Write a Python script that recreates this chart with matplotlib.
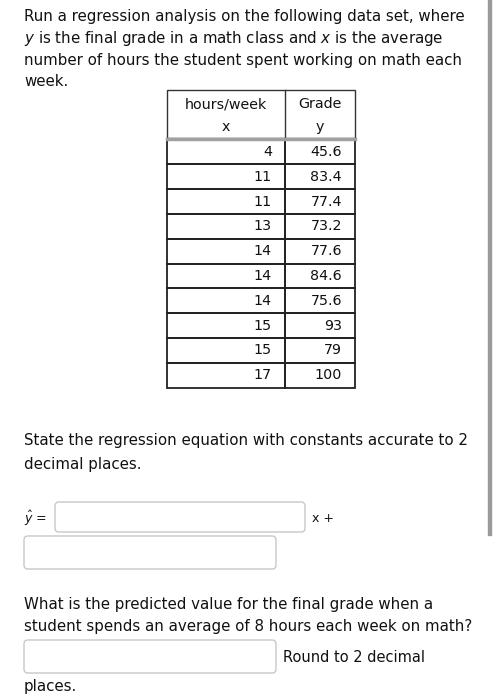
import matplotlib
matplotlib.use("Agg")
import matplotlib.pyplot as plt
from matplotlib.patches import Rectangle, FancyBboxPatch

hours = [4, 11, 11, 13, 14, 14, 14, 15, 15, 17]
grades = ["45.6", "83.4", "77.4", "73.2", "77.6", "84.6", "75.6", "93", "79", "100"]
col_headers = [("hours/week", "x"), ("Grade", "y")]

plt.rcParams['font.family'] = ['DejaVu Sans']
fig = plt.figure(figsize=(4.95, 7), dpi=100)
ax = fig.add_axes([0, 0, 1, 1])
ax.set_xlim(0, 495); ax.set_ylim(700, 0); ax.axis('off')
fs = 10.8
tc = '#111111'

def t(x, y, s, **kw):
    kw.setdefault('fontsize', fs)
    ax.text(x, y, s, va='center', color=tc, **kw)

intro = ["Run a regression analysis on the following data set, where",
         r"$y$ is the final grade in a math class and $x$ is the average",
         "number of hours the student spent working on math each",
         "week."]
for i, s in enumerate(intro):
    t(24, 16 + 22 * i, s)

ax.add_patch(Rectangle((488, 0), 3, 535, color='#9a9a9a'))

x0, xm, x1 = 167, 285, 355
ax.add_patch(Rectangle((x0, 90), x1 - x0, 48, fill=False, lw=1, ec='#333'))
ax.plot([xm, xm], [90, 138], color='#333', lw=1)
t((x0 + xm) / 2, 104, col_headers[0][0], ha='center', fontsize=10.3)
t((x0 + xm) / 2, 127, col_headers[0][1], ha='center', fontsize=10.3)
t((xm + x1) / 2, 104, col_headers[1][0], ha='center', fontsize=10.3)
t((xm + x1) / 2, 127, col_headers[1][1], ha='center', fontsize=10.3)
ax.plot([x0, x1], [138.5, 138.5], color='#a0a0a0', lw=2.5)
rh = 24.8
top = 139.5
for i, (h, g) in enumerate(zip(hours, grades)):
    y = top + i * rh
    ax.add_patch(Rectangle((x0, y), xm - x0, rh, fill=False, lw=1.3, ec='#222'))
    ax.add_patch(Rectangle((xm, y), x1 - xm, rh, fill=False, lw=1.3, ec='#222'))
    t(272, y + rh / 2, str(h), ha='right', fontsize=10.3)
    t(342, y + rh / 2, g, ha='right', fontsize=10.3)

t(24, 441, "State the regression equation with constants accurate to 2")
t(24, 464, "decimal places.")

def box(x, y, w, h):
    ax.add_patch(FancyBboxPatch((x, y), w, h, boxstyle="round,pad=0,rounding_size=4",
                                fill=False, ec='#c8c8c8', lw=1))

t(24, 518, r"$\hat{y}$ =", fontsize=9)
box(55, 502, 250, 30)
t(312, 518, "x +", fontsize=9)
box(24, 536, 252, 33)

t(24, 605, "What is the predicted value for the final grade when a")
t(24, 627, "student spends an average of 8 hours each week on math?")
box(24, 640, 252, 33)
t(283, 657, "Round to 2 decimal", fontsize=10.5)
t(24, 686, "places.")

fig.savefig("out.png", dpi=100, facecolor='white')
